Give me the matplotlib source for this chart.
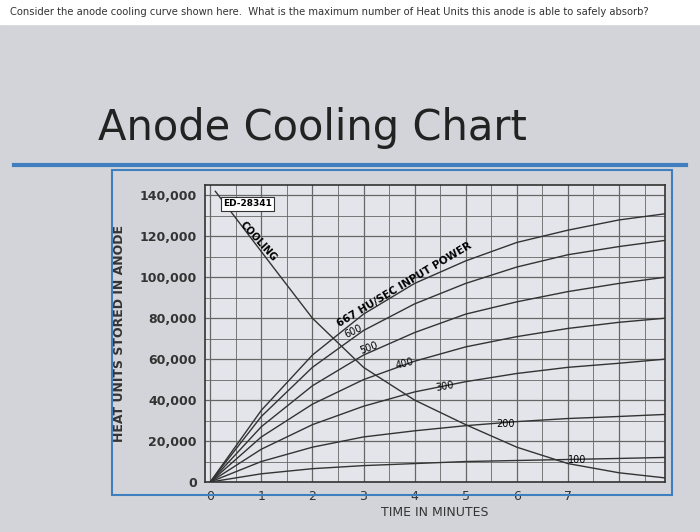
import matplotlib.pyplot as plt

times = [0, 1, 2, 3, 4, 5, 6, 7, 8, 8.9]
heating = {
    "667": [0, 35000, 62000, 82000, 97000, 108000, 117000, 123000, 128000, 131000],
    "600": [0, 32000, 56000, 74000, 87000, 97000, 105000, 111000, 115000, 118000],
    "500": [0, 27000, 47000, 62000, 73000, 82000, 88000, 93000, 97000, 100000],
    "400": [0, 22000, 38000, 50000, 59000, 66000, 71000, 75000, 78000, 80000],
    "300": [0, 16000, 28000, 37000, 44000, 49000, 53000, 56000, 58000, 60000],
    "200": [0, 10000, 17000, 22000, 25000, 27500, 29500, 31000, 32000, 33000],
    "100": [0, 4000, 6500, 8000, 9000, 10000, 10500, 11000, 11500, 12000],
}
cool_t = [0.1, 1.2, 2, 3, 4, 5, 6, 7, 8, 8.9]
cool_hu = [142000, 106000, 80000, 56000, 40000, 28000, 17000, 9000, 4500, 2000]
yticks = [0, 20000, 40000, 60000, 80000, 100000, 120000, 140000]
ylabels = ["0", "20,000", "40,000", "60,000", "80,000", "100,000", "120,000", "140,000"]
xticks = [0, 1, 2, 3, 4, 5, 6, 7]

fig = plt.figure(figsize=(7, 5.32), dpi=100, facecolor="#d3d4d9")
fig.patches.append(plt.Rectangle((0, 0.955), 1, 0.045, transform=fig.transFigure,
                                 color="white", zorder=0))
fig.text(0.015, 0.977, "Consider the anode cooling curve shown here.  What is the maximum number of Heat Units this anode is able to safely absorb?",
         fontsize=7.2, color="#333333", va="center")
fig.text(0.14, 0.76, "Anode Cooling Chart", fontsize=30, color="#222222", va="center")
fig.lines.append(plt.Line2D([0.02, 0.98], [0.69, 0.69], transform=fig.transFigure,
                            color="#3f7fc0", lw=3))
fig.patches.append(plt.Rectangle((0.16, 0.07), 0.8, 0.61, transform=fig.transFigure,
                                 fill=False, edgecolor="#3f7fc0", lw=1.5))

ax = fig.add_axes([0.293, 0.094, 0.657, 0.558])
ax.set_facecolor("#e4e5ea")
ax.set_xlim(-0.1, 8.9)
ax.set_ylim(0, 145000)
for x in [i * 0.5 for i in range(18)]:
    ax.axvline(x, color="#666666", lw=0.6 if x % 1 else 0.9)
for y in range(0, 145000, 10000):
    ax.axhline(y, color="#666666", lw=0.6 if y % 20000 else 0.9)

for name, vals in heating.items():
    ax.plot(times, vals, color="#333333", lw=1)
ax.plot(cool_t, cool_hu, color="#333333", lw=1)

ax.set_yticks(yticks)
ax.set_yticklabels(ylabels, fontsize=9, fontweight="bold", color="#333333")
ax.set_xticks(xticks)
ax.set_xticklabels([str(t) for t in xticks], fontsize=9, color="#333333")
ax.tick_params(length=0, pad=6)
ax.set_xlabel("TIME IN MINUTES", fontsize=9, color="#333333", labelpad=2)
ax.set_ylabel("HEAT UNITS STORED IN ANODE", fontsize=9, fontweight="bold",
              color="#333333", labelpad=10)
for s in ax.spines.values():
    s.set_color("#333333")
    s.set_linewidth(1.2)

ax.text(0.25, 138000, "ED-28341", fontsize=6.5, fontweight="bold", va="top",
        bbox=dict(facecolor="white", edgecolor="#333333", lw=0.8, pad=1.5))
ax.text(0.55, 128000, "COOLING", fontsize=7, fontweight="bold", rotation=-48,
        ha="left", va="top")
ax.text(2.45, 76000, "667 HU/SEC INPUT POWER", fontsize=7.5, fontweight="bold", rotation=31)
ax.text(2.6, 70500, "600", fontsize=7, rotation=25)
ax.text(2.9, 62500, "500", fontsize=7, rotation=20)
ax.text(3.6, 55000, "400", fontsize=7, rotation=15)
ax.text(4.4, 44500, "300", fontsize=7, rotation=10)
ax.text(5.6, 27000, "200", fontsize=7)
ax.text(7.0, 9500, "100", fontsize=7)

fig.savefig("out.png", dpi=100, facecolor=fig.get_facecolor())
